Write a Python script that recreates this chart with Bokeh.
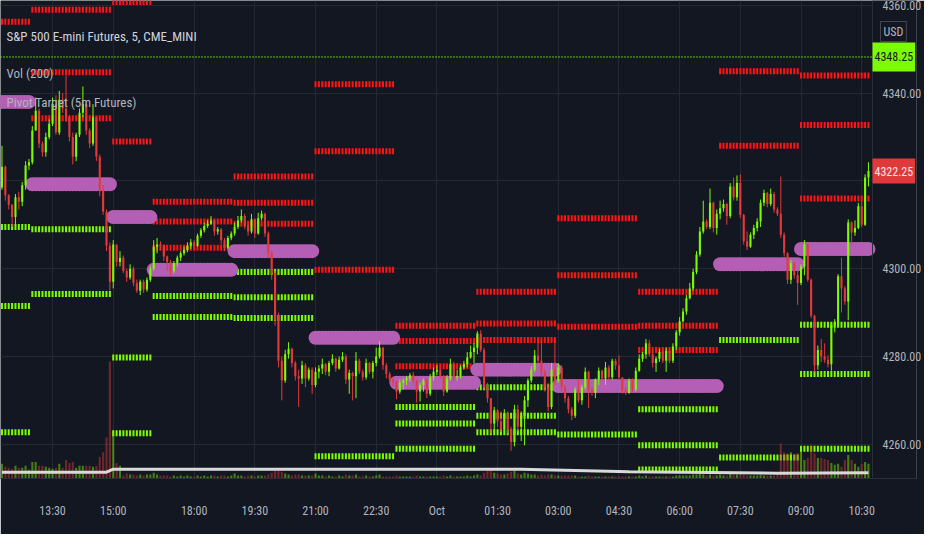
from bokeh.plotting import figure
from bokeh.models import (Range1d, FixedTicker, Label, Span, ColumnDataSource,
                          PrintfTickFormatter, BoxAnnotation)
from bokeh.embed import file_html
from bokeh.resources import INLINE

# ---------------- data (5-minute bars, index 0 = 12:15) ----------------
first_open = 4318.5
close = [4323.25, 4316.75, 4314.5, 4311.75, 4316.25, 4315.25, 4319.0, 4323.5, 4324.25, 4331.5,
         4336.0, 4328.5, 4326.5, 4330.0, 4333.0, 4337.5, 4331.0, 4338.5, 4336.5, 4334.5,
         4330.0, 4325.5, 4330.5, 4335.5, 4337.5, 4331.5, 4328.5, 4334.5, 4325.5, 4318.0,
         4313.0, 4305.25, 4297.0, 4305.5, 4301.5, 4302.5, 4299.5, 4298.0, 4300.0, 4296.75,
         4295.0, 4297.0, 4295.25, 4297.5, 4300.0, 4305.0, 4305.5, 4305.25, 4302.75, 4301.5,
         4299.5, 4301.25, 4302.5, 4303.5, 4304.25, 4305.25, 4306.0, 4305.25, 4307.5, 4308.75,
         4309.75, 4310.25, 4311.0, 4308.5, 4309.0, 4306.5, 4304.75, 4307.0, 4308.0, 4309.5,
         4311.0, 4312.0, 4309.75, 4308.5, 4311.25, 4308.0, 4311.5, 4312.5, 4308.0, 4303.5,
         4299.0, 4288.25, 4279.0, 4274.5, 4280.5, 4281.75, 4278.5, 4275.5, 4275.0, 4278.0,
         4275.0, 4277.0, 4273.5, 4276.5, 4277.25, 4278.25, 4276.5, 4278.5, 4279.5, 4277.25,
         4279.25, 4280.0, 4274.75, 4276.25, 4275.5, 4279.0, 4276.5, 4275.25, 4278.5, 4276.5,
         4278.5, 4280.0, 4282.0, 4278.0, 4276.0, 4274.75, 4274.25, 4272.0, 4274.0, 4274.5,
         4275.0, 4275.75, 4274.5, 4272.0, 4273.5, 4274.5, 4271.5, 4275.25, 4276.5, 4277.0,
         4275.5, 4272.0, 4275.0, 4278.25, 4275.25, 4275.5, 4277.5, 4278.25, 4279.75, 4281.0,
         4282.0, 4285.25, 4281.5, 4273.0, 4270.5, 4264.75, 4267.75, 4265.25, 4263.5, 4267.0,
         4263.5, 4260.5, 4268.0, 4264.0, 4266.5, 4270.0, 4274.5, 4277.0, 4280.25, 4279.0,
         4276.5, 4273.0, 4268.5, 4277.0, 4274.5, 4277.5, 4273.0, 4270.5, 4268.0, 4266.5,
         4272.5, 4270.0, 4273.0, 4276.5, 4272.25, 4271.75, 4274.75, 4276.75, 4275.0, 4277.5,
         4275.25, 4279.0, 4278.0, 4275.25, 4272.25, 4271.75, 4274.5, 4272.5, 4276.75, 4279.5,
         4280.5, 4283.0, 4280.5, 4278.5, 4279.5, 4281.0, 4279.0, 4281.25, 4279.0, 4282.25,
         4285.5, 4288.0, 4290.25, 4293.25, 4295.5, 4299.25, 4303.25, 4308.5, 4310.75, 4309.5,
         4315.0, 4309.25, 4312.5, 4313.75, 4314.75, 4312.0, 4318.75, 4316.25, 4319.5, 4312.25,
         4306.25, 4305.0, 4307.75, 4309.25, 4310.75, 4315.0, 4317.25, 4314.75, 4317.0, 4313.5,
         4312.5, 4307.75, 4303.5, 4297.5, 4301.25, 4298.5, 4296.75, 4300.5, 4305.5, 4297.5,
         4289.25, 4278.0, 4281.5, 4280.0, 4279.25, 4278.25, 4287.25, 4287.75, 4298.25, 4295.5,
         4292.5, 4310.5, 4308.25, 4309.25, 4314.25, 4310.0, 4320.75, 4322.25]
high = [4328.0, 4323.5, 4317.0, 4314.75, 4317.0, 4317.5, 4319.75, 4324.5, 4325.0, 4332.5,
        4339.0, 4336.5, 4329.0, 4331.0, 4334.0, 4339.0, 4339.5, 4340.5, 4340.0, 4344.0,
        4335.0, 4331.0, 4331.0, 4336.5, 4341.5, 4338.0, 4332.0, 4337.5, 4334.5, 4326.0,
        4319.0, 4313.5, 4306.0, 4306.5, 4305.0, 4304.0, 4303.0, 4300.0, 4301.0, 4300.5,
        4297.5, 4297.5, 4297.5, 4298.0, 4300.5, 4306.5, 4307.0, 4306.25, 4305.5, 4303.0,
        4302.0, 4301.75, 4303.0, 4304.0, 4305.0, 4306.0, 4306.75, 4306.5, 4308.0, 4309.25,
        4310.5, 4311.0, 4312.0, 4311.25, 4309.5, 4309.25, 4307.0, 4307.5, 4308.5, 4310.5,
        4312.0, 4313.5, 4312.5, 4310.0, 4312.5, 4311.5, 4312.75, 4313.25, 4312.75, 4308.5,
        4304.0, 4299.5, 4290.0, 4280.0, 4281.5, 4283.25, 4282.0, 4279.0, 4277.0, 4279.0,
        4278.5, 4277.5, 4277.5, 4277.5, 4278.0, 4279.5, 4278.5, 4279.0, 4280.5, 4279.75,
        4280.0, 4281.0, 4280.5, 4277.0, 4276.5, 4281.0, 4279.5, 4277.0, 4279.5, 4278.75,
        4279.0, 4282.0, 4283.5, 4282.25, 4278.5, 4276.5, 4275.25, 4274.5, 4274.75, 4275.0,
        4275.5, 4276.25, 4276.5, 4274.75, 4274.0, 4275.0, 4275.0, 4276.0, 4277.5, 4278.0,
        4277.25, 4275.75, 4275.75, 4279.5, 4278.75, 4277.0, 4278.0, 4279.0, 4281.0, 4282.5,
        4283.0, 4285.75, 4286.0, 4282.0, 4274.0, 4270.5, 4268.5, 4268.0, 4267.5, 4268.0,
        4267.5, 4264.0, 4269.0, 4269.0, 4267.5, 4271.0, 4275.0, 4277.75, 4281.5, 4283.25,
        4283.5, 4277.0, 4274.0, 4278.5, 4283.5, 4278.5, 4278.0, 4273.5, 4271.0, 4268.5,
        4273.0, 4274.75, 4273.5, 4277.5, 4276.75, 4273.0, 4275.0, 4277.5, 4277.0, 4278.75,
        4278.0, 4279.5, 4279.5, 4280.25, 4275.0, 4273.0, 4275.0, 4275.0, 4277.5, 4280.5,
        4281.0, 4284.0, 4283.75, 4281.0, 4280.0, 4281.75, 4281.5, 4282.0, 4281.5, 4283.0,
        4286.0, 4289.0, 4291.0, 4294.0, 4296.75, 4300.0, 4304.0, 4309.5, 4315.5, 4311.25,
        4318.25, 4315.25, 4313.5, 4315.5, 4315.75, 4315.0, 4319.5, 4320.75, 4321.25, 4321.5,
        4312.5, 4308.5, 4308.25, 4310.0, 4311.5, 4315.75, 4318.0, 4317.5, 4318.25, 4317.5,
        4314.0, 4321.0, 4308.25, 4303.75, 4302.0, 4301.5, 4299.5, 4301.0, 4306.5, 4305.75,
        4297.75, 4289.5, 4282.5, 4284.0, 4283.0, 4280.25, 4287.75, 4288.5, 4298.75, 4302.5,
        4296.0, 4311.25, 4310.75, 4311.0, 4315.0, 4315.5, 4321.5, 4324.25]
low = [4318.0, 4315.5, 4313.5, 4309.5, 4310.0, 4313.5, 4314.25, 4318.0, 4322.5, 4323.75,
       4331.5, 4327.5, 4325.5, 4325.5, 4329.5, 4332.5, 4330.5, 4330.5, 4335.5, 4333.5,
       4329.0, 4323.75, 4324.5, 4330.0, 4334.5, 4330.5, 4327.5, 4328.0, 4324.5, 4316.5,
       4312.25, 4304.0, 4295.0, 4295.5, 4300.5, 4300.5, 4299.0, 4297.0, 4297.5, 4296.0,
       4294.5, 4294.0, 4294.5, 4294.75, 4297.0, 4299.5, 4303.5, 4304.25, 4301.75, 4299.5,
       4298.5, 4299.0, 4300.5, 4301.75, 4303.0, 4303.75, 4304.5, 4304.75, 4305.0, 4307.0,
       4308.25, 4309.25, 4310.0, 4307.5, 4307.75, 4305.5, 4304.0, 4304.5, 4306.5, 4307.5,
       4309.0, 4310.5, 4309.0, 4307.5, 4308.0, 4307.0, 4307.75, 4311.0, 4307.25, 4302.5,
       4297.5, 4287.0, 4277.5, 4270.0, 4274.0, 4279.5, 4277.5, 4274.5, 4268.5, 4273.75,
       4273.0, 4274.5, 4271.5, 4273.0, 4275.0, 4276.0, 4275.75, 4275.5, 4278.0, 4276.5,
       4277.0, 4278.75, 4273.75, 4271.5, 4270.0, 4270.5, 4276.0, 4274.5, 4274.75, 4276.0,
       4275.0, 4277.75, 4279.5, 4277.0, 4275.0, 4274.0, 4273.25, 4270.25, 4271.5, 4272.5,
       4273.5, 4274.25, 4274.0, 4269.5, 4269.75, 4272.0, 4270.5, 4271.0, 4274.5, 4275.75,
       4275.0, 4271.0, 4271.75, 4274.5, 4274.5, 4274.5, 4275.0, 4277.0, 4277.5, 4279.5,
       4278.5, 4280.5, 4281.0, 4272.5, 4269.5, 4262.5, 4262.5, 4264.0, 4262.75, 4263.0,
       4262.5, 4258.5, 4259.5, 4263.0, 4260.75, 4259.75, 4268.5, 4274.0, 4276.5, 4278.5,
       4275.5, 4272.0, 4267.5, 4268.0, 4273.5, 4274.0, 4272.0, 4269.5, 4267.0, 4265.5,
       4266.0, 4269.5, 4269.0, 4272.5, 4268.25, 4271.0, 4270.5, 4273.5, 4274.5, 4273.5,
       4274.5, 4274.75, 4277.0, 4274.5, 4271.5, 4271.25, 4271.5, 4272.0, 4272.0, 4276.5,
       4278.75, 4279.5, 4280.0, 4277.5, 4276.5, 4278.75, 4278.5, 4276.5, 4278.5, 4278.5,
       4281.5, 4284.75, 4287.75, 4289.5, 4293.0, 4295.0, 4298.75, 4302.75, 4308.0, 4309.0,
       4309.0, 4308.25, 4307.75, 4311.25, 4313.0, 4310.0, 4311.5, 4315.5, 4315.5, 4311.5,
       4305.5, 4304.25, 4304.75, 4306.75, 4308.5, 4309.5, 4314.25, 4314.0, 4314.25, 4312.75,
       4312.0, 4307.0, 4302.75, 4296.5, 4296.5, 4297.75, 4291.75, 4296.25, 4298.5, 4297.0,
       4288.75, 4276.5, 4277.0, 4278.75, 4278.5, 4277.5, 4276.75, 4285.5, 4287.25, 4290.0,
       4291.75, 4288.25, 4305.5, 4307.5, 4309.0, 4309.5, 4309.75, 4318.75]
volume_k = [15, 12, 11, 10, 13, 11, 11, 13, 9, 17, 17, 13, 13, 12, 11, 10, 11, 15, 11, 19,
            16, 17, 11, 13, 13, 13, 13, 12, 13, 22, 27, 42, 120, 49, 16, 13, 3, 5, 4, 4,
            3, 4, 3, 4, 4, 6, 4, 3, 3, 3, 2, 3, 2, 3, 2, 3, 2, 2, 3, 2,
            3, 2, 3, 3, 2, 3, 3, 2, 3, 5, 3, 3, 2, 3, 3, 2, 3, 3, 3, 4,
            6, 8, 8, 7, 5, 4, 3, 4, 4, 3, 3, 3, 3, 5, 3, 3, 2, 3, 2, 2,
            3, 2, 4, 3, 3, 4, 2, 2, 3, 2, 2, 3, 4, 2, 2, 2, 2, 3, 2, 2,
            2, 2, 2, 3, 2, 2, 2, 2, 2, 2, 2, 3, 2, 3, 2, 2, 2, 2, 3, 2,
            3, 4, 3, 6, 8, 9, 6, 5, 4, 4, 5, 7, 8, 5, 4, 6, 5, 4, 4, 3,
            4, 3, 4, 4, 3, 3, 3, 3, 3, 3, 3, 2, 2, 2, 3, 2, 2, 2, 2, 2,
            2, 2, 2, 2, 2, 2, 2, 2, 2, 3, 2, 3, 2, 2, 2, 2, 2, 2, 2, 2,
            3, 3, 3, 3, 3, 4, 4, 5, 4, 3, 4, 3, 3, 4, 3, 3, 5, 4, 4, 5,
            4, 3, 3, 3, 3, 4, 3, 3, 3, 3, 6, 36, 27, 26, 27, 25, 26, 29, 19, 21,
            34, 26, 21, 21, 20, 19, 16, 14, 15, 12, 19, 24, 19, 15, 12, 15, 17, 15]
vol_ma_bars = [0, 31, 33, 130, 154, 186, 230, 257]
vol_ma_k = [6.5, 6.5, 9.5, 9.5, 9.5, 7.0, 5.5, 6.0]

# pivot target sessions (bar ranges) and their levels
seg_start = [0, 9, 33, 45, 69, 93, 117, 141, 165, 189, 213, 237]
seg_end = [8, 32, 44, 68, 92, 116, 140, 164, 188, 212, 236, 257]
pivot = [4338.0, 4319.25, 4311.75, 4299.75, 4304.0, 4284.25, 4274.0, 4277.0, 4273.25, 4273.25, 4301.0, 4304.5]
resistance = [[4356.25], [4334.25, 4344.75, 4359.0], [4329.0, 4360.75], [4304.75, 4310.75, 4315.25],
              [4310.25, 4315.0, 4321.0], [4299.75, 4326.75, 4342.0], [4277.75, 4283.5, 4287.0],
              [4283.75, 4287.5, 4294.75], [4286.75, 4298.5, 4311.5], [4281.5, 4287.0, 4294.75],
              [4328.0, 4345.0], [4316.0, 4332.75, 4344.0]]
support = [[4309.5, 4291.5, 4262.75], [4309.0, 4294.25], [4279.75, 4262.5], [4293.75, 4289.0],
           [4299.25, 4293.5, 4288.75], [4257.25], [4268.5, 4264.75, 4259.0], [4273.0, 4266.5, 4262.75],
           [4262.25], [4268.0, 4259.75, 4254.25], [4283.75, 4257.0], [4287.25, 4276.0, 4259.0]]
alert_level = 4348.25
last_price = 4322.25

tick_bars = [15, 33, 57, 75, 93, 111, 129, 147, 165, 183, 201, 219, 237, 255]
tick_labels = ["13:30", "15:00", "18:00", "19:30", "21:00", "22:30", "Oct", "01:30",
               "03:00", "04:30", "06:00", "07:30", "09:00", "10:30"]
price_ticks = [4260, 4280, 4300, 4320, 4340, 4360]

# ---------------- styling ----------------
BG = "#131722"
GRID = "#242835"
UP = "#7cfc00"
DOWN = "#e3393a"
LVL_RED = "#ff1414"
LVL_GREEN = "#7cfc00"
MAGENTA = "#b45fb5"
TXT = "#b2b5be"
FONT = "Liberation Sans Narrow, Roboto Condensed, DejaVu Sans Condensed, Roboto"
SCALE_EDGE = 258.2          # bar position of the price-scale border

n = len(close)
opens = [first_open] + close[:-1]
xs = list(range(n))
is_up = [c >= o for o, c in zip(opens, close)]
colors = [UP if u else DOWN for u in is_up]
body_top = [max(o, c, min(o, c) + 0.2) for o, c in zip(opens, close)]
body_bot = [min(o, c) for o, c in zip(opens, close)]

p = figure(frame_width=916, frame_height=478,
           x_range=Range1d(-0.44, 271.25), y_range=Range1d(4252.2, 4361.1),
           y_axis_location="right", output_backend="svg", toolbar_location=None,
           min_border_left=0, min_border_top=0, min_border_right=0, min_border_bottom=56,
           background_fill_color=BG, border_fill_color=BG, outline_line_color=None)
p.extra_y_ranges = {"vol": Range1d(0, 490)}

# axes
p.xaxis.ticker = FixedTicker(ticks=tick_bars)
p.xaxis.major_label_overrides = {b: l for b, l in zip(tick_bars, tick_labels)}
p.yaxis.ticker = FixedTicker(ticks=price_ticks)
p.yaxis.formatter = PrintfTickFormatter(format="%.2f")
p.yaxis.major_label_overrides = {4320: ""}
for ax in (p.xaxis[0], p.yaxis[0]):
    ax.axis_line_color = "#2a2e39"
    ax.major_tick_line_color = None
    ax.minor_tick_line_color = None
    ax.major_label_text_color = TXT
    ax.major_label_text_font = FONT
    ax.major_label_text_font_size = "12px"
p.yaxis.axis_line_color = None
p.xaxis.major_label_standoff = 19
p.yaxis.major_label_standoff = -40
p.xgrid.ticker = FixedTicker(ticks=tick_bars)
p.ygrid.ticker = FixedTicker(ticks=price_ticks)
p.xgrid.grid_line_color = GRID
p.ygrid.grid_line_color = GRID

# price-scale column
p.add_layout(BoxAnnotation(left=SCALE_EDGE, fill_color=BG, fill_alpha=1.0, line_color=None,
                           level="underlay"))
p.add_layout(Span(location=SCALE_EDGE, dimension="height", line_color="#2a2e39", line_width=1))

# pivot levels, one marker per bar
rx, ry, gx, gy, mx, my = [], [], [], [], [], []
for k in range(len(seg_start)):
    for b in range(seg_start[k], seg_end[k] + 1):
        for lv in resistance[k]:
            rx.append(b); ry.append(lv)
        for lv in support[k]:
            gx.append(b); gy.append(lv)
        mx.append(b); my.append(pivot[k])

p.rect(x=rx, y=ry, width=0.6, height=6, height_units="screen", fill_color=LVL_RED, line_color=None)
p.rect(x=gx, y=gy, width=0.6, height=6, height_units="screen", fill_color=LVL_GREEN, line_color=None)
p.scatter(x=mx, y=my, size=14, marker="circle", fill_color=MAGENTA, line_color=None)

p.segment(x0=[-0.44], y0=[alert_level], x1=[SCALE_EDGE], y1=[alert_level],
          line_color=LVL_GREEN, line_dash="1 2", line_width=1.5)

# volume
vsrc = ColumnDataSource(dict(x=xs, v=volume_k, c=colors))
p.vbar(x="x", top="v", bottom=0, width=0.62, fill_color="c", fill_alpha=0.45, line_color=None,
       source=vsrc, y_range_name="vol")
p.line(x=vol_ma_bars, y=vol_ma_k, line_color="#d9d9d9", line_width=3, y_range_name="vol")

# candles
csrc = ColumnDataSource(dict(x=xs, h=high, l=low, t=body_top, b=body_bot, c=colors))
p.segment(x0="x", y0="l", x1="x", y1="h", line_color="c", line_width=1, source=csrc)
p.vbar(x="x", top="t", bottom="b", width=0.62, fill_color="c", line_color=None, source=csrc)

# legend-like texts
def txt(y, s, color=TXT):
    p.add_layout(Label(x=6, y=y, x_units="screen", y_units="screen", text=s,
                       text_color=color, text_font=FONT, text_font_size="13px",
                       text_baseline="middle"))

txt(442, "S&P 500 E-mini Futures, 5, CME_MINI", "#d1d4dc")
txt(405, "Vol (200)")
txt(376, "Pivot Target (5m Futures)")

# price labels on the scale
p.add_layout(Label(x=SCALE_EDGE, y=alert_level, text=f"{alert_level:.2f}", text_color=BG,
                   text_font=FONT, text_font_size="12px", text_baseline="middle",
                   background_fill_color=LVL_GREEN,
                   padding=dict(left=2, right=2, top=10, bottom=10)))
p.add_layout(Label(x=SCALE_EDGE, y=last_price, text=f"{last_price:.2f}", text_color="#f4e6e6",
                   text_font=FONT, text_font_size="12px", text_baseline="middle",
                   background_fill_color="#e0393b",
                   padding=dict(left=2, right=2, top=8, bottom=8)))
p.add_layout(Label(x=880, y=447, x_units="screen", y_units="screen", text="USD", text_color=TXT,
                   text_font=FONT, text_font_size="12px", text_baseline="middle",
                   background_fill_color=BG, border_line_color="#434651", padding=3))

open("out.html", "w").write(file_html(p, INLINE))
